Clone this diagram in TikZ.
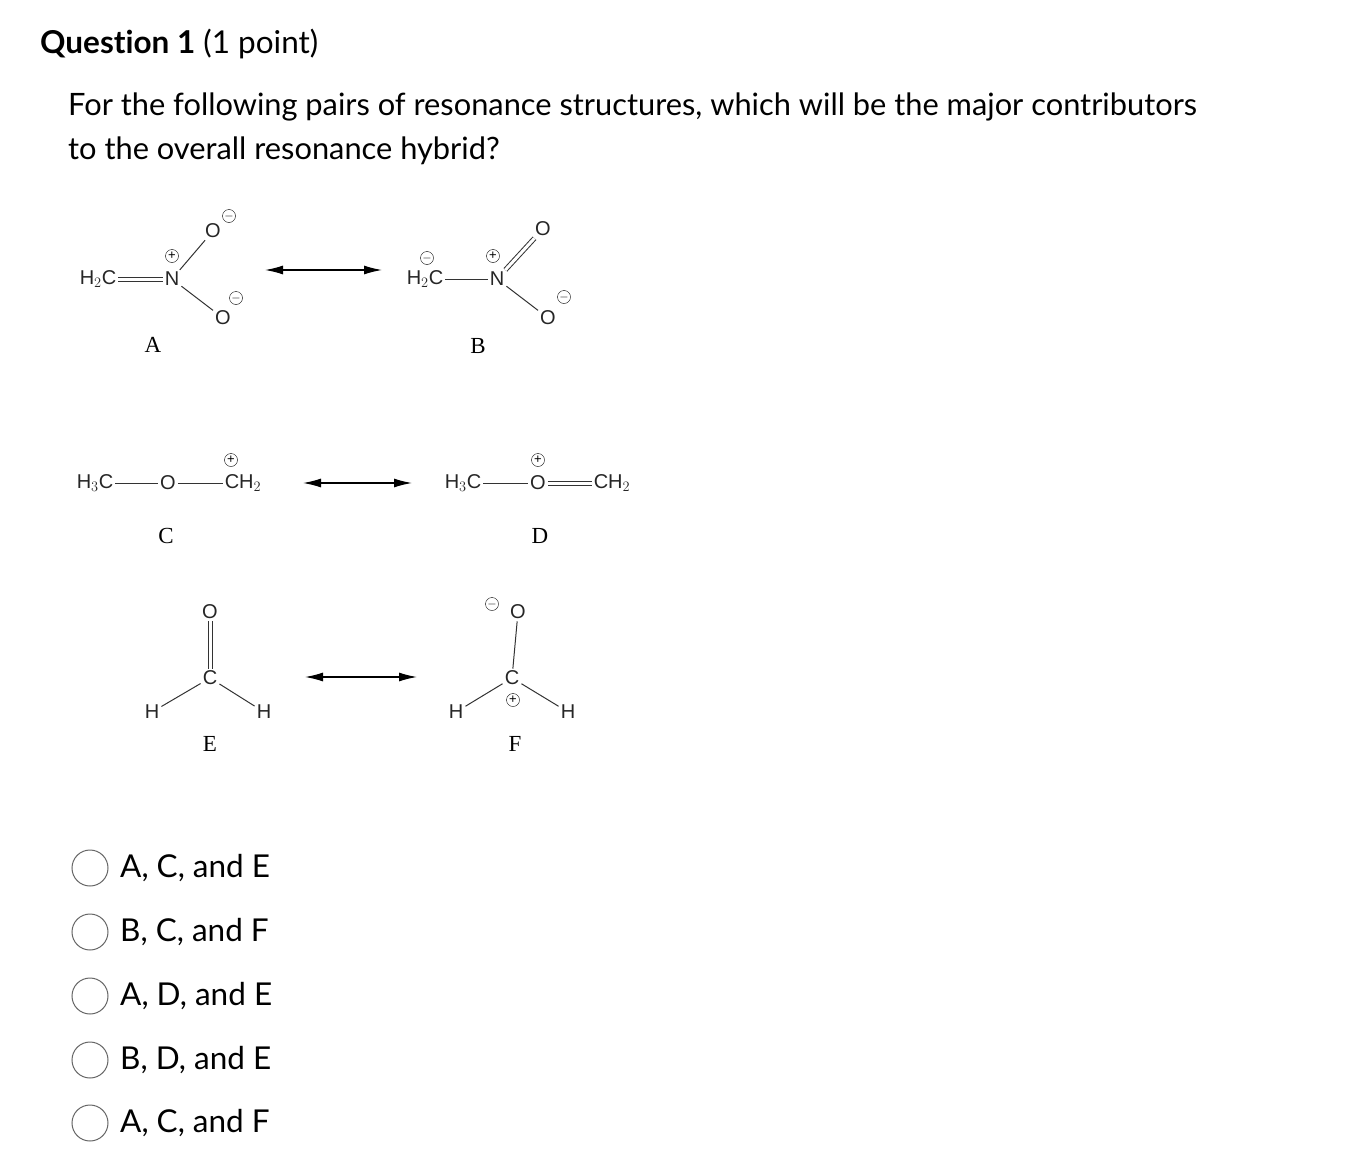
\documentclass[tikz,border=0pt]{standalone}
\usepackage{fontspec}
\setmainfont{Lato}[Ligatures=NoCommon]
\newfontfamily\chem{Liberation Sans}
\newfontfamily\lab{Liberation Serif}
\usetikzlibrary{arrows.meta}
\tikzset{
 atm/.style={font=\chem\fontsize{20}{20}\selectfont, inner sep=2pt, text=black!85},
 chg/.style={circle, draw, inner sep=0pt, minimum size=13pt, font=\chem\fontsize{13}{13}\selectfont},
 lbl/.style={font=\lab\fontsize{23}{23}\selectfont},
 bond/.style={line width=1pt, black!80},
 res/.style={line width=1.3pt, {Latex[length=18pt,width=9pt]}-{Latex[length=18pt,width=9pt]}},
 opt/.style={circle, draw=black!60, line width=1pt, minimum size=36pt, inner sep=0pt},
 opttxt/.style={anchor=west, font=\fontsize{31.5}{31.5}\selectfont},
}
\begin{document}
\begin{tikzpicture}[x=1pt,y=-1pt]
\useasboundingbox[fill=white] (0,0) rectangle (1370,1156);
\node[anchor=base west, inner sep=0pt, font=\fontsize{31.5}{31.5}\selectfont] (q) at (40,53) {\textbf{Question 1} (1 point)};
\node[anchor=base west, inner sep=0pt, font=\fontsize{30.8}{30.8}\selectfont] (p1) at (68,115) {For the following pairs of resonance structures, which will be the major contributors};
\node[anchor=base west, inner sep=0pt, font=\fontsize{30.8}{30.8}\selectfont] (p2) at (68,159) {to the overall resonance hybrid?};

% A
\node[atm] (a1) at (98,279) {H$_2$C};
\node[atm] (aN) at (172,279) {N};
\node[chg] (aNp) at (172,256) {+};
\node[atm] (aO1) at (213,231) {O};
\node[chg] (aO1m) at (229,216) {$-$};
\node[atm] (aO2) at (223,318) {O};
\node[chg] (aO2m) at (236,298) {$-$};
\draw[bond,double,double distance=3pt] (a1) -- (aN);
\draw[bond] (aN) -- (aO1);
\draw[bond] (aN) -- (aO2);
\node[lbl] (lA) at (153,345) {A};
\coordinate (r1a) at (265,270); \coordinate (r1b) at (382,270);
\draw[res] (r1a) -- (r1b);
% B
\node[atm] (b1) at (425,279) {H$_2$C};
\node[chg] (b1m) at (427,258) {$-$};
\node[atm] (bN) at (497,279) {N};
\node[chg] (bNp) at (493,256) {+};
\node[atm] (bO1) at (543,229) {O};
\node[atm] (bO2) at (548,318) {O};
\node[chg] (bO2m) at (564,297) {$-$};
\draw[bond] (b1) -- (bN);
\draw[bond,double,double distance=3pt] (bN) -- (bO1);
\draw[bond] (bN) -- (bO2);
\node[lbl] (lB) at (478,346) {B};

% C
\node[atm] (c1) at (95,483) {H$_3$C};
\node[atm] (cO) at (168,483) {O};
\node[atm] (c2) at (243,483) {CH$_2$};
\node[chg] (c2p) at (231,460) {+};
\draw[bond] (c1) -- (cO);
\draw[bond] (cO) -- (c2);
\node[lbl] (lC) at (166,536) {C};
\coordinate (r2a) at (303,483); \coordinate (r2b) at (412,483);
\draw[res] (r2a) -- (r2b);
% D
\node[atm] (d1) at (463,483) {H$_3$C};
\node[atm] (dO) at (538,483) {O};
\node[chg] (dOp) at (538,460) {+};
\node[atm] (d2) at (612,483) {CH$_2$};
\draw[bond] (d1) -- (dO);
\draw[bond,double,double distance=3pt] (dO) -- (d2);
\node[lbl] (lD) at (540,536) {D};

% E
\node[atm] (eO) at (210,612) {O};
\node[atm] (eC) at (210,678) {C};
\node[atm] (eH1) at (152,712) {H};
\node[atm] (eH2) at (264,712) {H};
\draw[bond,double,double distance=3pt] (eO) -- (eC);
\draw[bond] (eC) -- (eH1);
\draw[bond] (eC) -- (eH2);
\node[lbl] (lE) at (210,744) {E};
\coordinate (r3a) at (305,677); \coordinate (r3b) at (417,677);
\draw[res] (r3a) -- (r3b);
% F
\node[atm] (fO) at (518,612) {O};
\node[chg] (fOm) at (492,604) {$-$};
\node[atm] (fC) at (512,678) {C};
\node[chg] (fCp) at (513,700) {+};
\node[atm] (fH1) at (456,712) {H};
\node[atm] (fH2) at (568,712) {H};
\draw[bond] (fO) -- (fC);
\draw[bond] (fC) -- (fH1);
\draw[bond] (fC) -- (fH2);
\node[lbl] (lF) at (515,744) {F};

% options
\foreach \y/\t [count=\i] in {868/{A, C, and E},932/{B, C, and F},996/{A, D, and E},1060/{B, D, and E},1123/{A, C, and F}}{
  \node[opt] (oc\i) at (90,\y) {};
  \node[opttxt, inner sep=0pt] (ot\i) at (120,\y) {\t};
}
\end{tikzpicture}
\end{document}
